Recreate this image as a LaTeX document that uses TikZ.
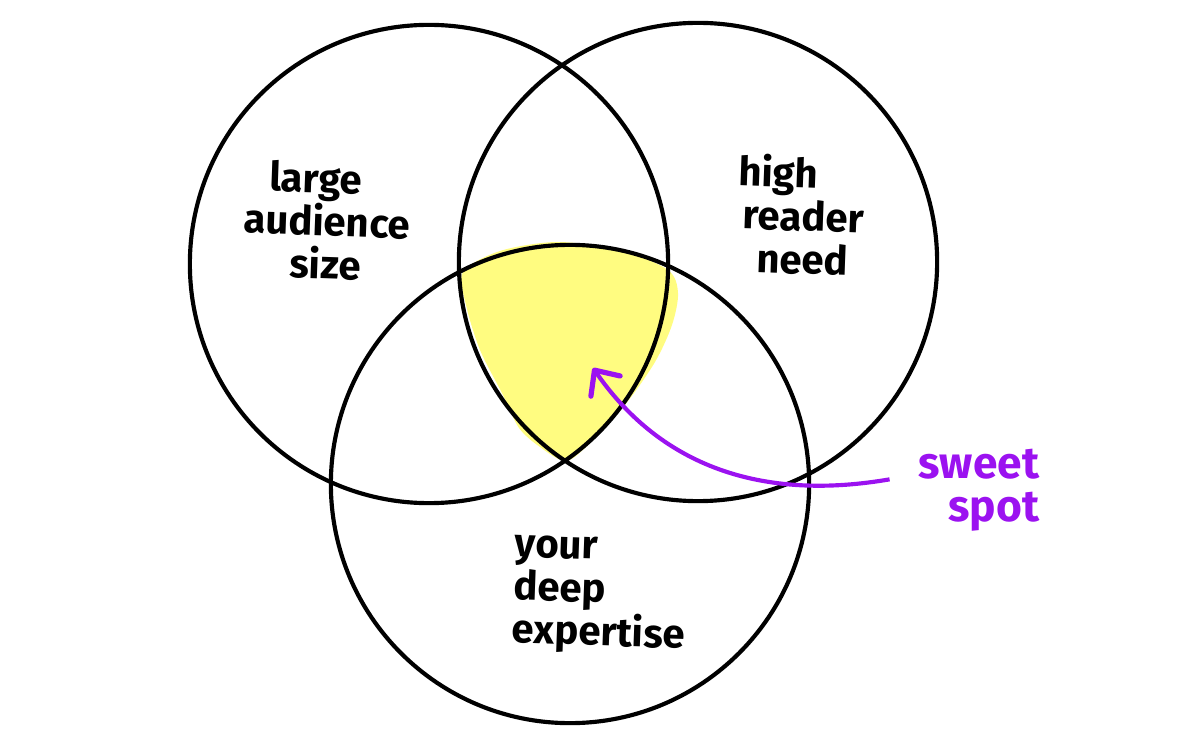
\documentclass[tikz,border=0pt]{standalone}
\usepackage{fontspec}
\setmainfont{Fira Sans}
\usepackage{xcolor}
\usetikzlibrary{arrows.meta}
\definecolor{spotyellow}{HTML}{FFFC80}
\definecolor{spotpurple}{HTML}{9B12F0}
\tikzset{%
  tipB/.tip={Straight Barb[angle=85:16pt 1, line width=0pt 1.25, round]},
  venn/.style={circle,draw=black,line width=3pt,minimum size=4.78in,inner sep=0pt},
  hand/.style={align=center,inner sep=0pt,font=\fontsize{29}{31}\selectfont\bfseries},
  sweetlabel/.style={hand,text=spotpurple,align=right,font=\fontsize{32}{31}\selectfont\bfseries},
  sweetarrow/.style={draw=spotpurple,line width=3pt,-tipB}
}

\begin{document}
\begin{tikzpicture}[x=.01in,y=-.01in]
\useasboundingbox (0,0) rectangle (1200,748);
\fill[color=spotyellow] plot[smooth cycle] coordinates {(463,272) (500,251) (557,242) (620,250) (668,270) (678,293) (672,325) (655,362) (625,405) (590,443) (566,461) (540,447) (519,428) (503,395) (480,350) (466,305)};
\node[venn] (audience) at (429,264) {};
\node[venn] (reader) at (698,262) {};
\node[venn] (expertise) at (570,484) {};
\node[hand,rotate=-2] (audiencelabel) at (327,221) {large\hspace*{18pt}\\audience\\size};
\node[hand,rotate=-2] (readerlabel) at (804,215) {high\hspace*{39pt}\\reader\\need};
\node[hand,rotate=-2,align=left] (expertiselabel) at (600,596) {your\\deep\\expertise};
\node[sweetlabel] (sweet) at (979,490) {sweet\\spot};
\coordinate (sweettip) at (593,368);
\draw[sweetarrow] ([xshift=-21pt]sweet.170) .. controls (770,500) and (665,472) .. (sweettip);
\end{tikzpicture}
\end{document}
